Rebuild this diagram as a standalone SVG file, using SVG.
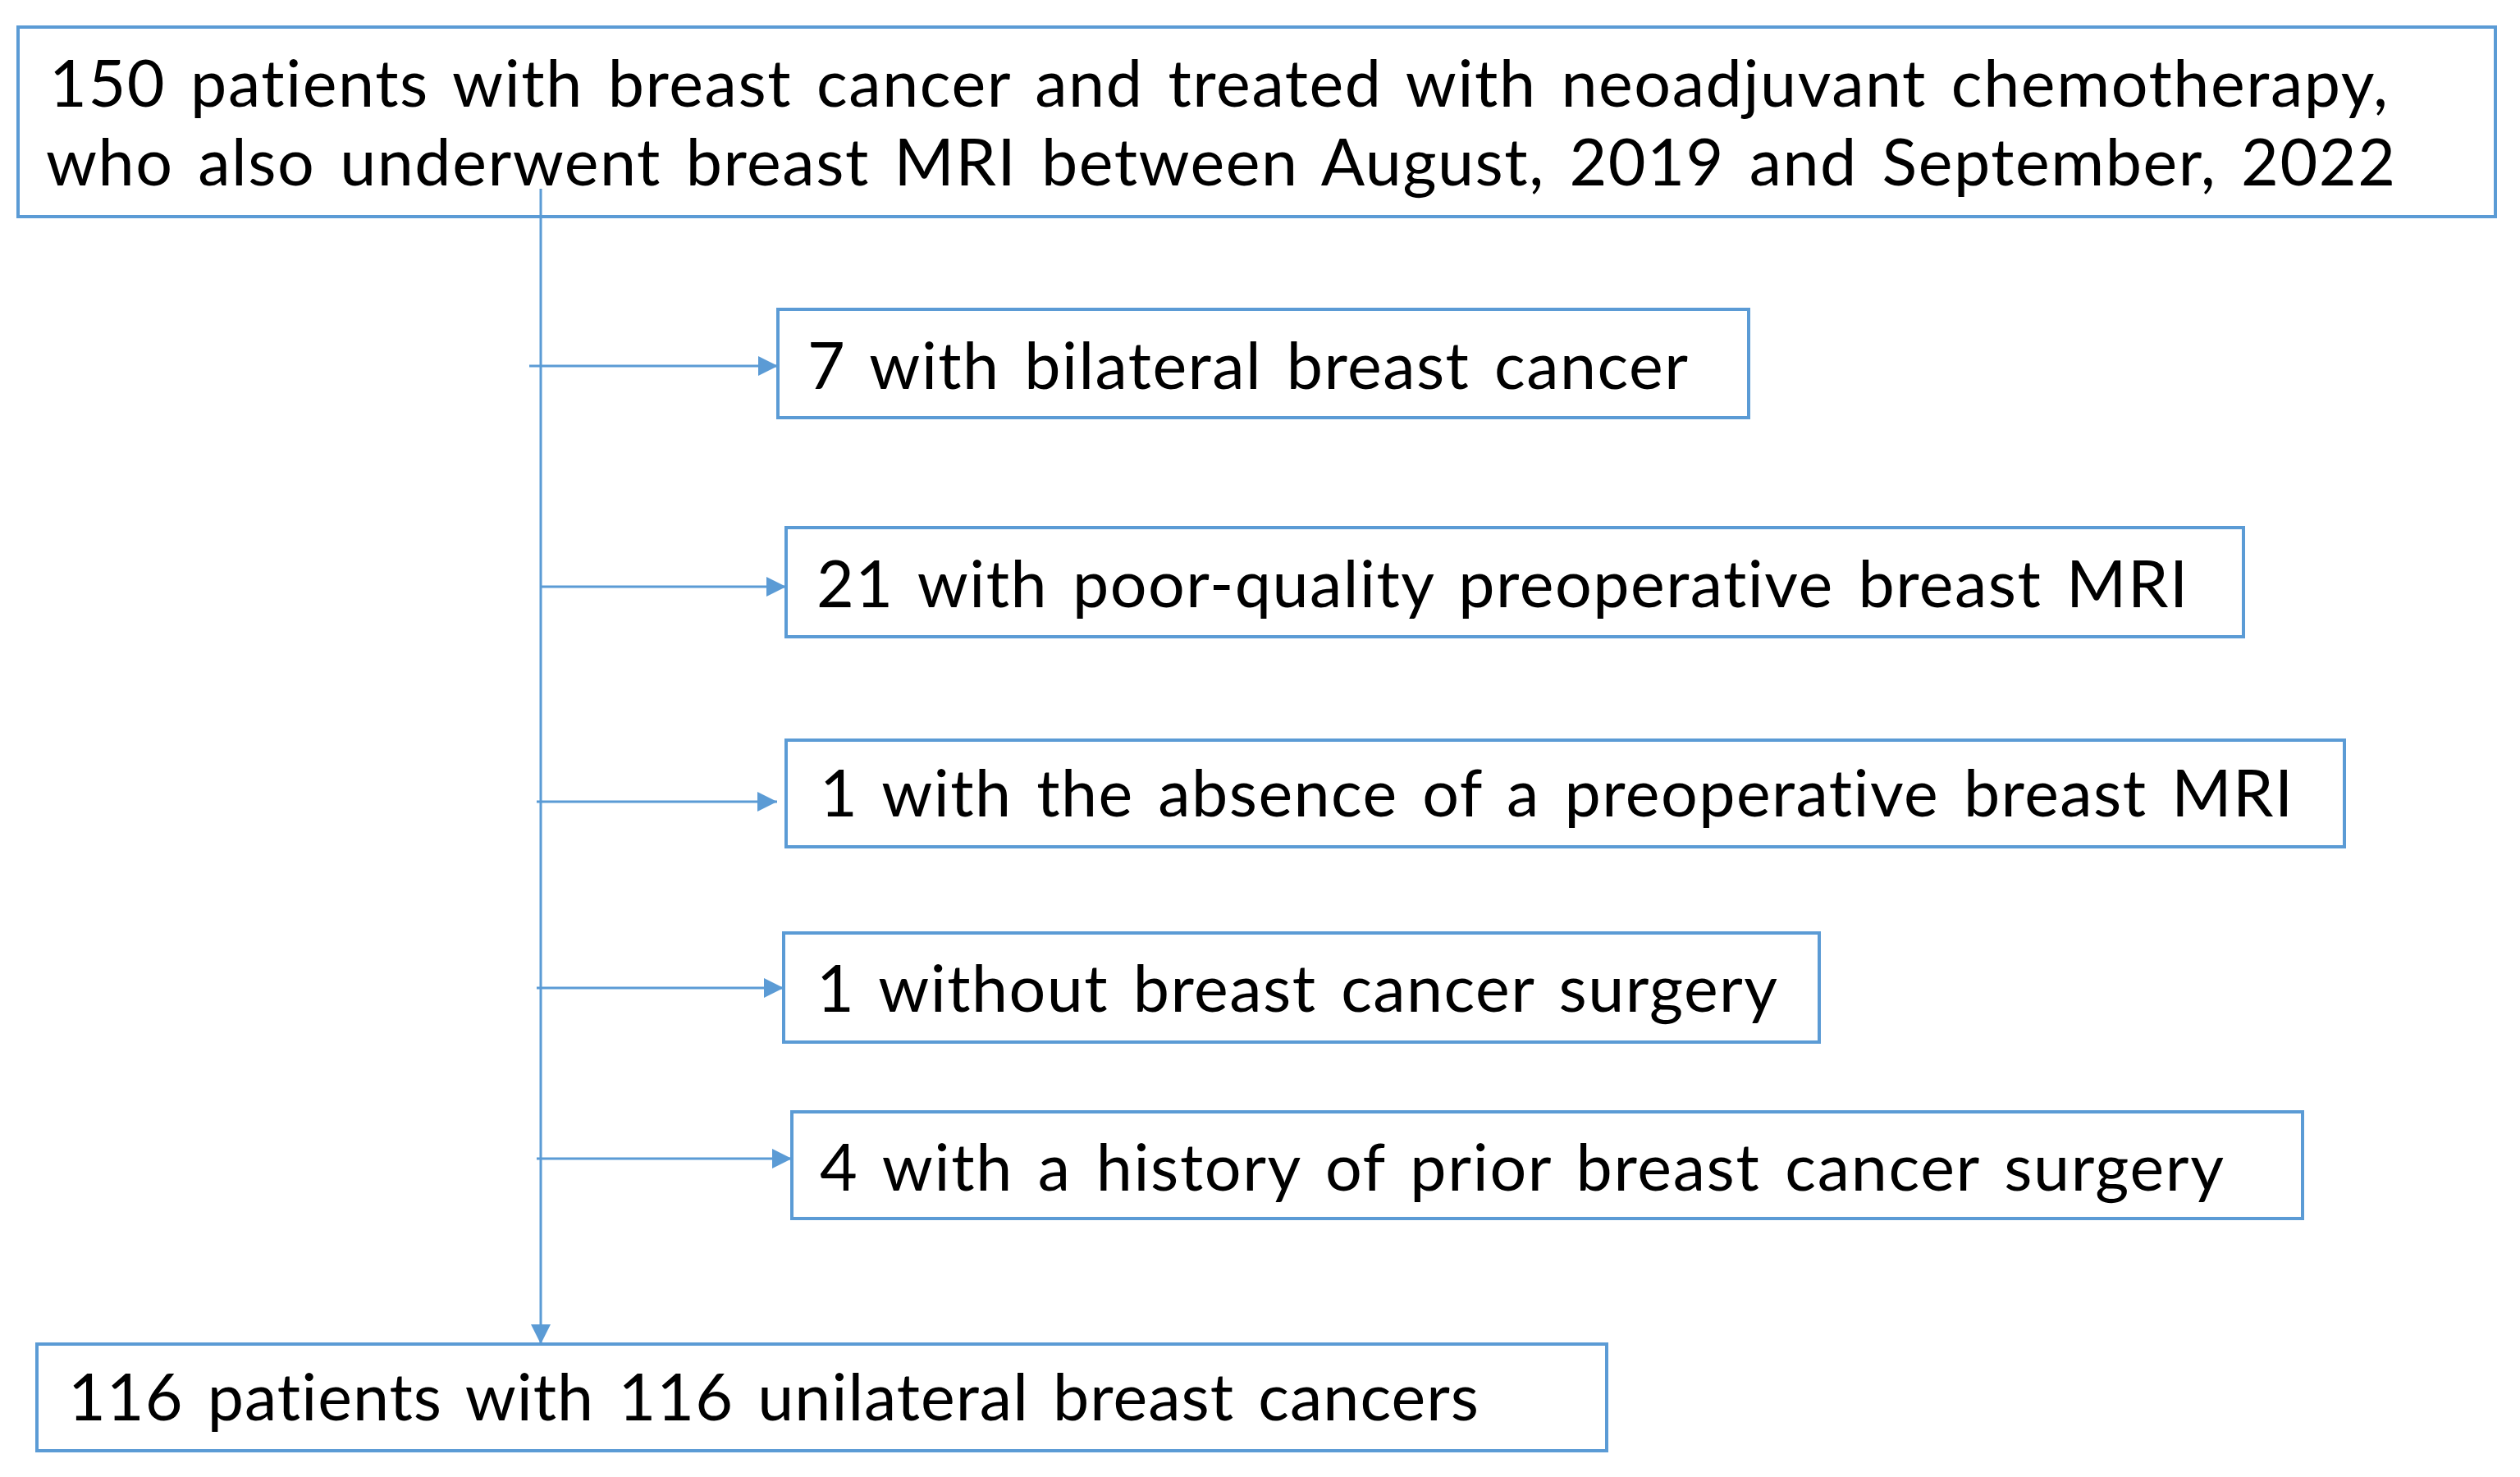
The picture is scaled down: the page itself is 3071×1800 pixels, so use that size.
<svg xmlns="http://www.w3.org/2000/svg" width="3071" height="1800" viewBox="0 0 3071 1800">
<style>
.box{fill:#fff;stroke:#5B9BD5;stroke-width:4}
.t{font-family:Lato,"Open Sans","Liberation Sans",sans-serif;font-size:79px;fill:#000;word-spacing:8px;font-variant-ligatures:none}
.c{stroke:#5B9BD5;stroke-width:3;fill:none}
</style>
<defs>
<marker id="ah" markerUnits="userSpaceOnUse" markerWidth="24" markerHeight="24" refX="24" refY="12" orient="auto">
<path d="M0,0 L24,12 L0,24 z" fill="#5B9BD5"/>
</marker>
</defs>
<rect width="3071" height="1800" fill="#fff"/>
<g id="n-start">
<rect class="box" x="22" y="33" width="3019" height="231"/>
<text class="t"><tspan x="60" y="130" textLength="2850" lengthAdjust="spacing">150 patients with breast cancer and treated with neoadjuvant chemotherapy,</tspan><tspan x="56" y="226" textLength="2863" lengthAdjust="spacing">who also underwent breast MRI between August, 2019 and September, 2022</tspan></text>
</g>
<g id="n-ex1">
<rect class="box" x="948" y="377" width="1183" height="132"/>
<text class="t" x="984" y="474" textLength="1073" lengthAdjust="spacing">7 with bilateral breast cancer</text>
</g>
<g id="n-ex2">
<rect class="box" x="958" y="643" width="1776" height="133"/>
<text class="t" x="995" y="740" textLength="1671" lengthAdjust="spacing">21 with poor-quality preoperative breast MRI</text>
</g>
<g id="n-ex3">
<rect class="box" x="958" y="902" width="1899" height="130"/>
<text class="t" x="999" y="995" textLength="1795" lengthAdjust="spacing">1 with the absence of a preoperative breast MRI</text>
</g>
<g id="n-ex4">
<rect class="box" x="955" y="1137" width="1262" height="133"/>
<text class="t" x="995" y="1233" textLength="1171" lengthAdjust="spacing">1 without breast cancer surgery</text>
</g>
<g id="n-ex5">
<rect class="box" x="965" y="1355" width="1841" height="130"/>
<text class="t" x="999" y="1451" textLength="1711" lengthAdjust="spacing">4 with a history of prior breast cancer surgery</text>
</g>
<g id="n-final">
<rect class="box" x="45" y="1638" width="1913" height="130"/>
<text class="t" x="83" y="1731" textLength="1719" lengthAdjust="spacing">116 patients with 116 unilateral breast cancers</text>
</g>
<g id="connectors">
<line class="c" x1="659" y1="230" x2="659" y2="1638" marker-end="url(#ah)"/>
<line class="c" x1="645" y1="446" x2="948" y2="446" marker-end="url(#ah)"/>
<line class="c" x1="659" y1="715" x2="958" y2="715" marker-end="url(#ah)"/>
<line class="c" x1="654" y1="977" x2="947" y2="977" marker-end="url(#ah)"/>
<line class="c" x1="654" y1="1204" x2="955" y2="1204" marker-end="url(#ah)"/>
<line class="c" x1="654" y1="1412" x2="965" y2="1412" marker-end="url(#ah)"/>
</g>
</svg>
